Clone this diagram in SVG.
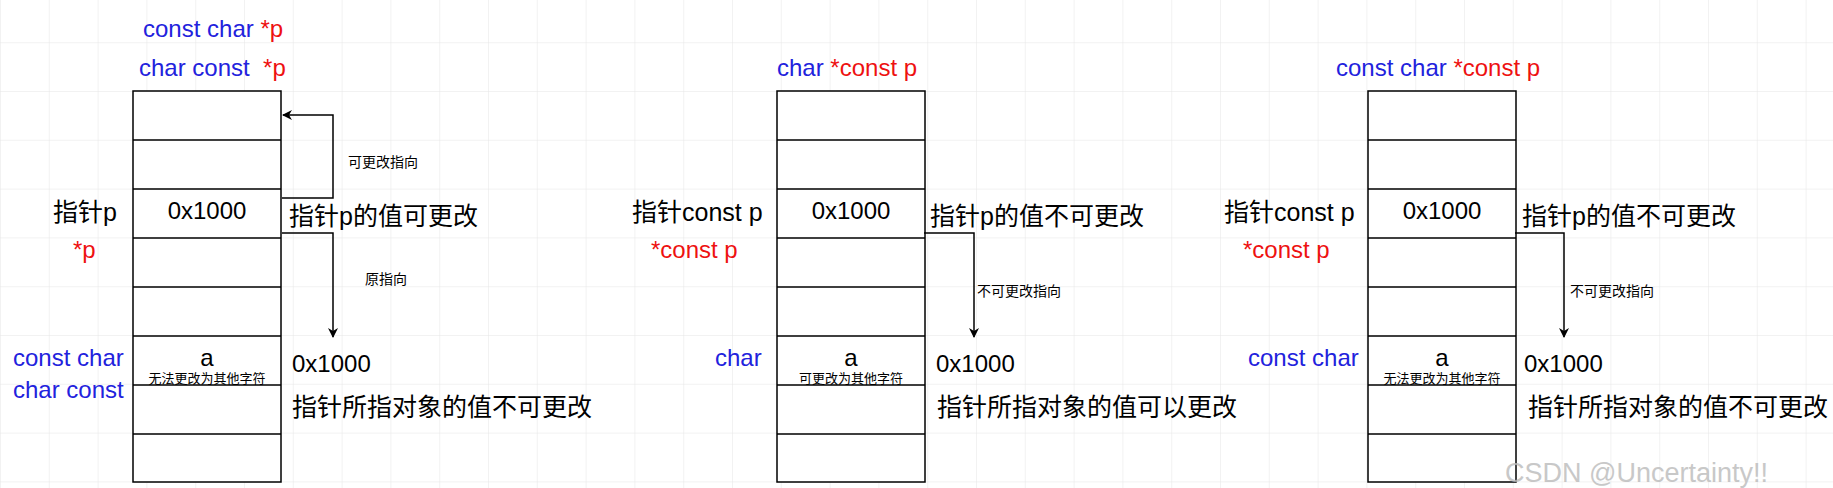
<svg xmlns="http://www.w3.org/2000/svg" width="1833" height="488" viewBox="0 0 1833 488">
<style>
text{font-family:"Liberation Sans","Noto Sans CJK SC",sans-serif;fill:#000}
.b{fill:#2222dd}.r{fill:#ee1111}
.big{font-size:24px}.cn{font-size:25px}.sm{font-size:14px}.xs{font-size:13px}
.cell{fill:#fff;stroke:#000;stroke-width:1.5}
.c{stroke:#000;stroke-width:1.5;fill:none}
</style>
<defs>
<pattern id="g" width="48.8" height="48.8" patternUnits="userSpaceOnUse" x="0" y="91">
<path d="M0 0H48.8M0 0V48.8" stroke="#e6e6e6" stroke-width="1" fill="none"/>
</pattern>
<marker id="a" markerWidth="10" markerHeight="10" refX="9" refY="5" orient="auto" markerUnits="userSpaceOnUse">
<path d="M0 0L10 5L0 10L3 5Z" fill="#000"/>
</marker>
<g id="stack">
<rect class="cell" x="0" y="0" width="148" height="391"/>
<path d="M0 49H148M0 98H148M0 147H148M0 196H148M0 245H148M0 294H148M0 343H148" stroke="#000" stroke-width="1.5"/>
</g>
</defs>
<rect width="1833" height="488" fill="#fff"/>
<rect width="1833" height="488" fill="url(#g)"/>

<g id="col1">
<use href="#stack" x="133" y="91"/>
<text x="143" y="37" class="big"><tspan class="b">const char </tspan><tspan class="r">*p</tspan></text>
<text x="139" y="76" class="big" xml:space="preserve"><tspan class="b">char const  </tspan><tspan class="r">*p</tspan></text>
<text x="53" y="221" class="cn">指针p</text>
<text x="73" y="258" class="big r">*p</text>
<text x="207" y="219" class="big" text-anchor="middle">0x1000</text>
<text x="289" y="225" class="cn">指针p的值可更改</text>
<text x="348" y="167" class="sm">可更改指向</text>
<text x="365" y="284" class="sm">原指向</text>
<text x="13" y="366" class="big b">const char</text>
<text x="13" y="398" class="big b">char const</text>
<text x="207" y="366" class="big" text-anchor="middle">a</text>
<text x="207" y="383" class="xs" text-anchor="middle">无法更改为其他字符</text>
<text x="292" y="372" class="big">0x1000</text>
<text x="292" y="416" class="cn">指针所指对象的值不可更改</text>
</g>

<g id="col2">
<use href="#stack" x="777" y="91"/>
<text x="777" y="76" class="big"><tspan class="b">char </tspan><tspan class="r">*const p</tspan></text>
<text x="632" y="221" class="cn">指针const p</text>
<text x="651" y="258" class="big r">*const p</text>
<text x="851" y="219" class="big" text-anchor="middle">0x1000</text>
<text x="930" y="225" class="cn">指针p的值不可更改</text>
<text x="977" y="296" class="sm">不可更改指向</text>
<text x="715" y="366" class="big b">char</text>
<text x="851" y="366" class="big" text-anchor="middle">a</text>
<text x="851" y="383" class="xs" text-anchor="middle">可更改为其他字符</text>
<text x="936" y="372" class="big">0x1000</text>
<text x="937" y="416" class="cn">指针所指对象的值可以更改</text>
</g>

<g id="col3">
<use href="#stack" x="1368" y="91"/>
<text x="1336" y="76" class="big"><tspan class="b">const char </tspan><tspan class="r">*const p</tspan></text>
<text x="1224" y="221" class="cn">指针const p</text>
<text x="1243" y="258" class="big r">*const p</text>
<text x="1442" y="219" class="big" text-anchor="middle">0x1000</text>
<text x="1522" y="225" class="cn">指针p的值不可更改</text>
<text x="1570" y="296" class="sm">不可更改指向</text>
<text x="1248" y="366" class="big b">const char</text>
<text x="1442" y="366" class="big" text-anchor="middle">a</text>
<text x="1442" y="383" class="xs" text-anchor="middle">无法更改为其他字符</text>
<text x="1524" y="372" class="big">0x1000</text>
<text x="1528" y="416" class="cn">指针所指对象的值不可更改</text>
</g>

<g id="connectors">
<path class="c" d="M282 198H333V115H283" marker-end="url(#a)"/>
<path class="c" d="M282 233H333V337" marker-end="url(#a)"/>
<path class="c" d="M924 233H974V337" marker-end="url(#a)"/>
<path class="c" d="M1515 233H1564V337" marker-end="url(#a)"/>
</g>

<text x="1505" y="482" style="font-size:27px;fill:#bbbbbb;opacity:0.8">CSDN @Uncertainty!!</text>
</svg>
